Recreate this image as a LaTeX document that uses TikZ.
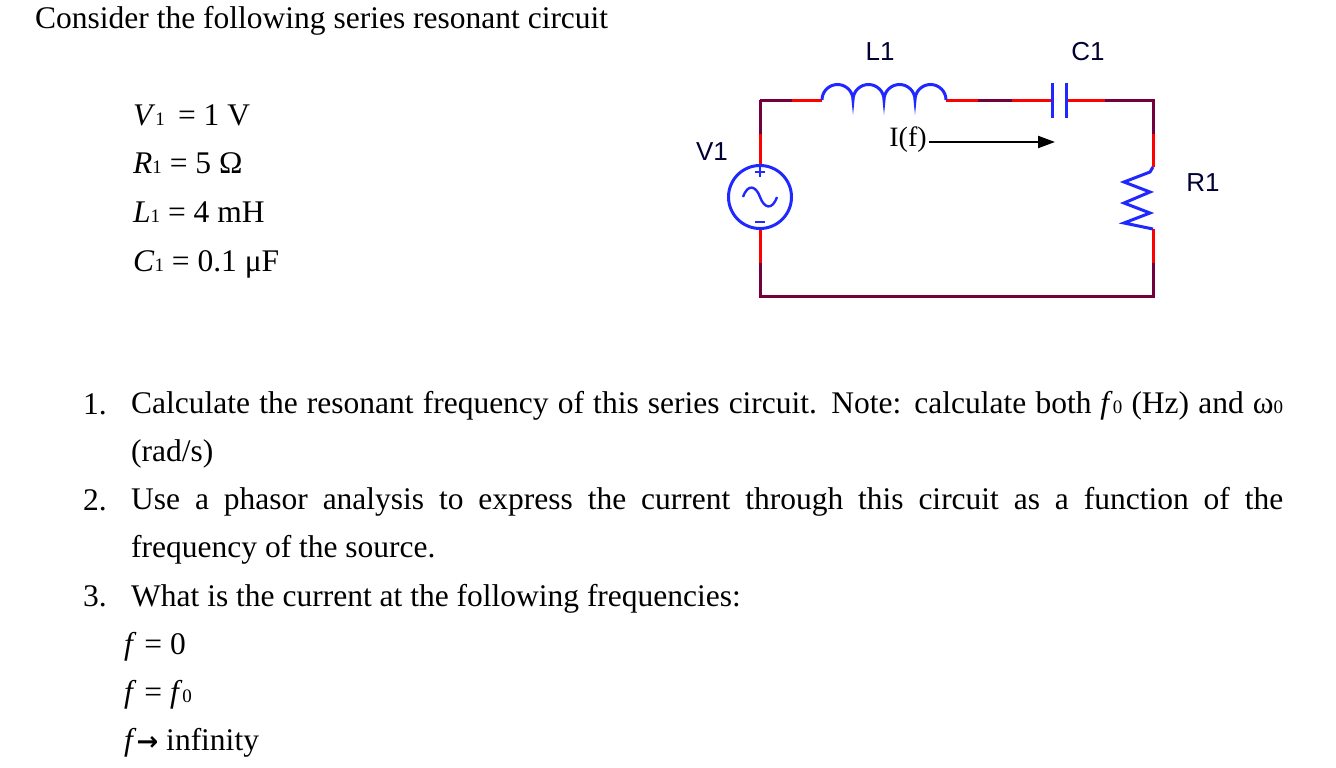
\documentclass[tikz,border=0pt]{standalone}
\usepackage{fontspec}
\setmainfont{Liberation Serif}
\newfontfamily\arial{Liberation Sans}
\newfontfamily\djv{DejaVu Sans}
\usetikzlibrary{arrows.meta}
\newcommand{\sbs}[1]{{\fontsize{19}{19}\selectfont #1}}
\begin{document}
\begin{tikzpicture}[x=1pt,y=-1pt,
  txt/.style={anchor=base west,inner sep=0pt,font=\rmfamily\fontsize{31.5}{48}\selectfont},
  lab/.style={inner sep=0pt,font=\arial\fontsize{26}{26}\selectfont,text=black!80!blue},
  wm/.style={draw={rgb,255:red,115;green,0;blue,60},line width=3pt},
  wr/.style={draw=red,line width=3pt},
  comp/.style={draw={rgb,255:red,30;green,40;blue,255},line width=3pt}]
\useasboundingbox (0,0) rectangle (1336,768);
% texts
\node[txt] (title) at (35,29) {Consider the following series resonant circuit};
\node[txt] (v) at (133,125) {\textit{V}\sbs{1} \,= 1 V};
\node[txt] (r) at (133,173) {\textit{R}\sbs{1} = 5 Ω};
\node[txt] (l) at (133,222) {\textit{L}\sbs{1} = 4 mH};
\node[txt] (c) at (133,271) {\textit{C}\sbs{1} = 0.1 μF};
\node[txt] (n1) at (83,414) {1.};
\node[txt] (n2) at (83,510) {2.};
\node[txt] (n3) at (83,606) {3.};
\node[txt,anchor=north west,text width=1152pt,align=justify] (i1) at (131,391)
 {Calculate the resonant frequency of this series circuit. Note: calculate both \textit{f}\sbs{0} (Hz) and ω\sbs{0}\linebreak (rad/s)};
\node[txt,anchor=north west,text width=1152pt,align=justify] (i2) at (131,487)
 {Use a phasor analysis to express the current through this circuit as a function of the\linebreak frequency of the source.};
\node[txt] (i3) at (131,606) {What is the current at the following frequencies:};
\node[txt] (q1) at (124,654) {\textit{f} = 0};
\node[txt] (q2) at (124,702) {\textit{f} = \textit{f}\sbs{0}};
\node[txt] (q3) at (124,750) {\textit{f}{\djv\fontsize{26}{26}\selectfont\bfseries→} infinity};
% circuit coordinates
\coordinate (tl) at (760,100); \coordinate (tr) at (1153,100);
\coordinate (bl) at (760,296); \coordinate (br) at (1153,296);
% wires
\draw[wm] (tl) -- (760,134); \draw[wr] (760,134) -- (760,166);
\draw[wr] (760,228) -- (760,263); \draw[wm] (760,263) -- (bl) -- (br) -- (1153,263);
\draw[wr] (1153,263) -- (1153,229);
\draw[wr] (1153,167) -- (1153,134); \draw[wm] (1153,134) -- (tr) -- (1105,100);
\draw[wr] (1105,100) -- (1066,100);
\draw[wr] (1052,100) -- (1012,100); \draw[wm] (1012,100) -- (978,100);
\draw[wr] (978,100) -- (946,100);
\draw[wm] (tl) -- (792,100); \draw[wr] (792,100) -- (822,100);
% inductor
\draw[comp] (822,100) arc (180:360:15.5) arc (180:360:15.5) arc (180:360:15.5) arc (180:360:15.5);
% capacitor
\draw[comp] (1052,83) -- (1052,118) (1066,83) -- (1066,118);
% resistor
\draw[comp] (1153,167) -- (1150,172) -- (1124,182) -- (1150,192) -- (1124,203) -- (1150,213) -- (1124,223) -- (1153,229);
% source
\node[circle,comp,minimum size=63pt,inner sep=0pt] (src) at (760,197) {};
\draw[comp,line width=2.4pt] (743,197) .. controls (748,183) and (756,186) .. (760,197) .. controls (764,208) and (772,211) .. (777,197);
\draw[comp,line width=2.2pt] (755,172) -- (765,172) (760,167) -- (760,177) (755,222) -- (765,222);
% labels
\node[lab] (L1) at (880,52) {L1};
\node[lab] (C1) at (1088,52) {C1};
\node[lab] (V1) at (712,152) {V1};
\node[lab] (R1) at (1203,183) {R1};
\node[inner sep=0pt,font=\fontsize{28}{28}\selectfont] (I) at (908,140) {I(f)};
\coordinate (ae) at (1055,142);
\draw[line width=2.2pt,-{Triangle[length=17pt,width=12pt]}] (I.east) ++(2,2) -- (ae);
\end{tikzpicture}
\end{document}
